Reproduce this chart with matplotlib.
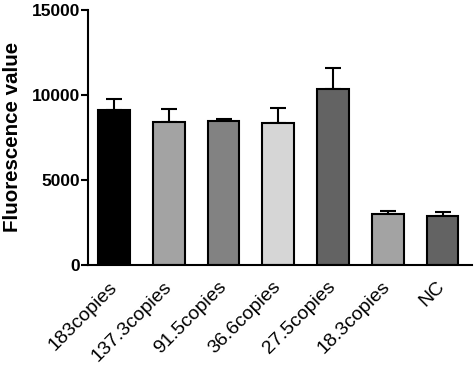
import matplotlib
matplotlib.use("Agg")
import matplotlib.pyplot as plt
import numpy as np

# data
categories = ['183copies', '137.3copies', '91.5copies', '36.6copies',
              '27.5copies', '18.3copies', 'NC']
means = [9100, 8430, 8490, 8370, 10370, 3000, 2900]
errors = [650, 730, 100, 850, 1240, 190, 200]
bar_colors = ['#000000', '#a3a3a3', '#828282', '#d6d6d6', '#636363', '#a3a3a3', '#636363']
yticks = [0, 5000, 10000, 15000]

plt.rcParams['font.family'] = ['Liberation Sans', 'DejaVu Sans']

fig = plt.figure(figsize=(4.74, 3.66), dpi=100)
ax = fig.add_axes([0.186, 0.276, 0.81, 0.697])

x = np.arange(len(categories))
ax.bar(x, means, width=0.58, color=bar_colors, edgecolor='black', linewidth=1.5, zorder=2)
ax.errorbar(x, means, yerr=[np.zeros(len(errors)), errors], fmt='none',
            ecolor='black', elinewidth=1.5, capsize=6, capthick=1.5, zorder=1)

ax.set_xlim(-0.475, 6.54)
ax.set_ylim(0, 15000)
ax.set_yticks(yticks)
ax.set_yticklabels([str(t) for t in yticks], fontsize=12.5, fontweight='bold')
ax.set_xticks(x)
ax.set_xticklabels(categories, rotation=45, ha='right', va='center',
                   rotation_mode='anchor', fontsize=14)
ax.tick_params(axis='x', length=0, pad=14)
ax.tick_params(axis='y', length=5, width=1.5, pad=1)

ax.set_ylabel('Fluorescence value', fontsize=14.8, fontweight='bold', labelpad=7)

for side in ['top', 'right']:
    ax.spines[side].set_visible(False)
for side in ['left', 'bottom']:
    ax.spines[side].set_linewidth(1.5)

fig.savefig('out.png', dpi=100)
